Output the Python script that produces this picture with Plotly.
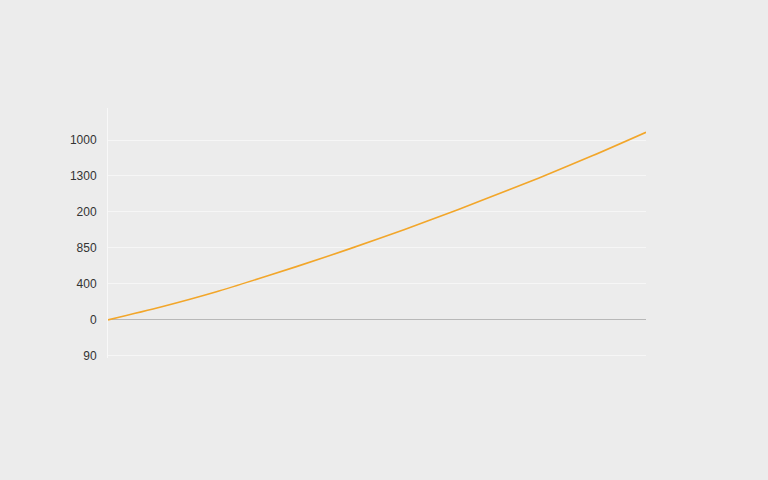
import plotly.graph_objects as go

# x positions (no labels shown) and the rising series
x_steps = [0, 1, 2, 3, 4, 5, 6, 7, 8, 9, 10]
values = [0, 73, 155, 248, 345, 448, 556, 670, 788, 912, 1043]

# gridline positions and the (odd) labels printed beside them
tick_vals = [-200, 0, 200, 400, 600, 800, 1000]
tick_text = ["90", "0", "400", "850", "200", "1300", "1000"]

fig = go.Figure()

fig.add_trace(
    go.Scatter(
        x=x_steps,
        y=values,
        mode="lines",
        line=dict(color="#f2a62a", width=1.6, shape="spline", smoothing=0.8),
        showlegend=False,
        hoverinfo="skip",
    )
)

fig.update_layout(
    width=768,
    height=480,
    margin=dict(l=108, r=122, t=108, b=122),
    paper_bgcolor="#ececec",
    plot_bgcolor="#ececec",
    font=dict(family="Liberation Sans, Arial, sans-serif", size=12, color="#333333"),
    xaxis=dict(
        range=[0, 10],
        showticklabels=False,
        showgrid=False,
        zeroline=False,
        showline=False,
        ticks="",
    ),
    yaxis=dict(
        range=[-212, 1178],
        tickvals=tick_vals,
        ticktext=tick_text,
        showgrid=True,
        gridcolor="#f6f6f6",
        gridwidth=1,
        zeroline=True,
        zerolinecolor="#b8b8b8",
        zerolinewidth=1,
        showline=True,
        linecolor="#f8f8f8",
        linewidth=1,
        ticks="",
        ticklabelstandoff=8,
    ),
)

# drop the browser's default page margin so the chart fills the window
fig.write_html(
    "out.html",
    config={"displayModeBar": False},
    post_script="document.body.style.margin='0';document.body.style.overflow='hidden';",
)
